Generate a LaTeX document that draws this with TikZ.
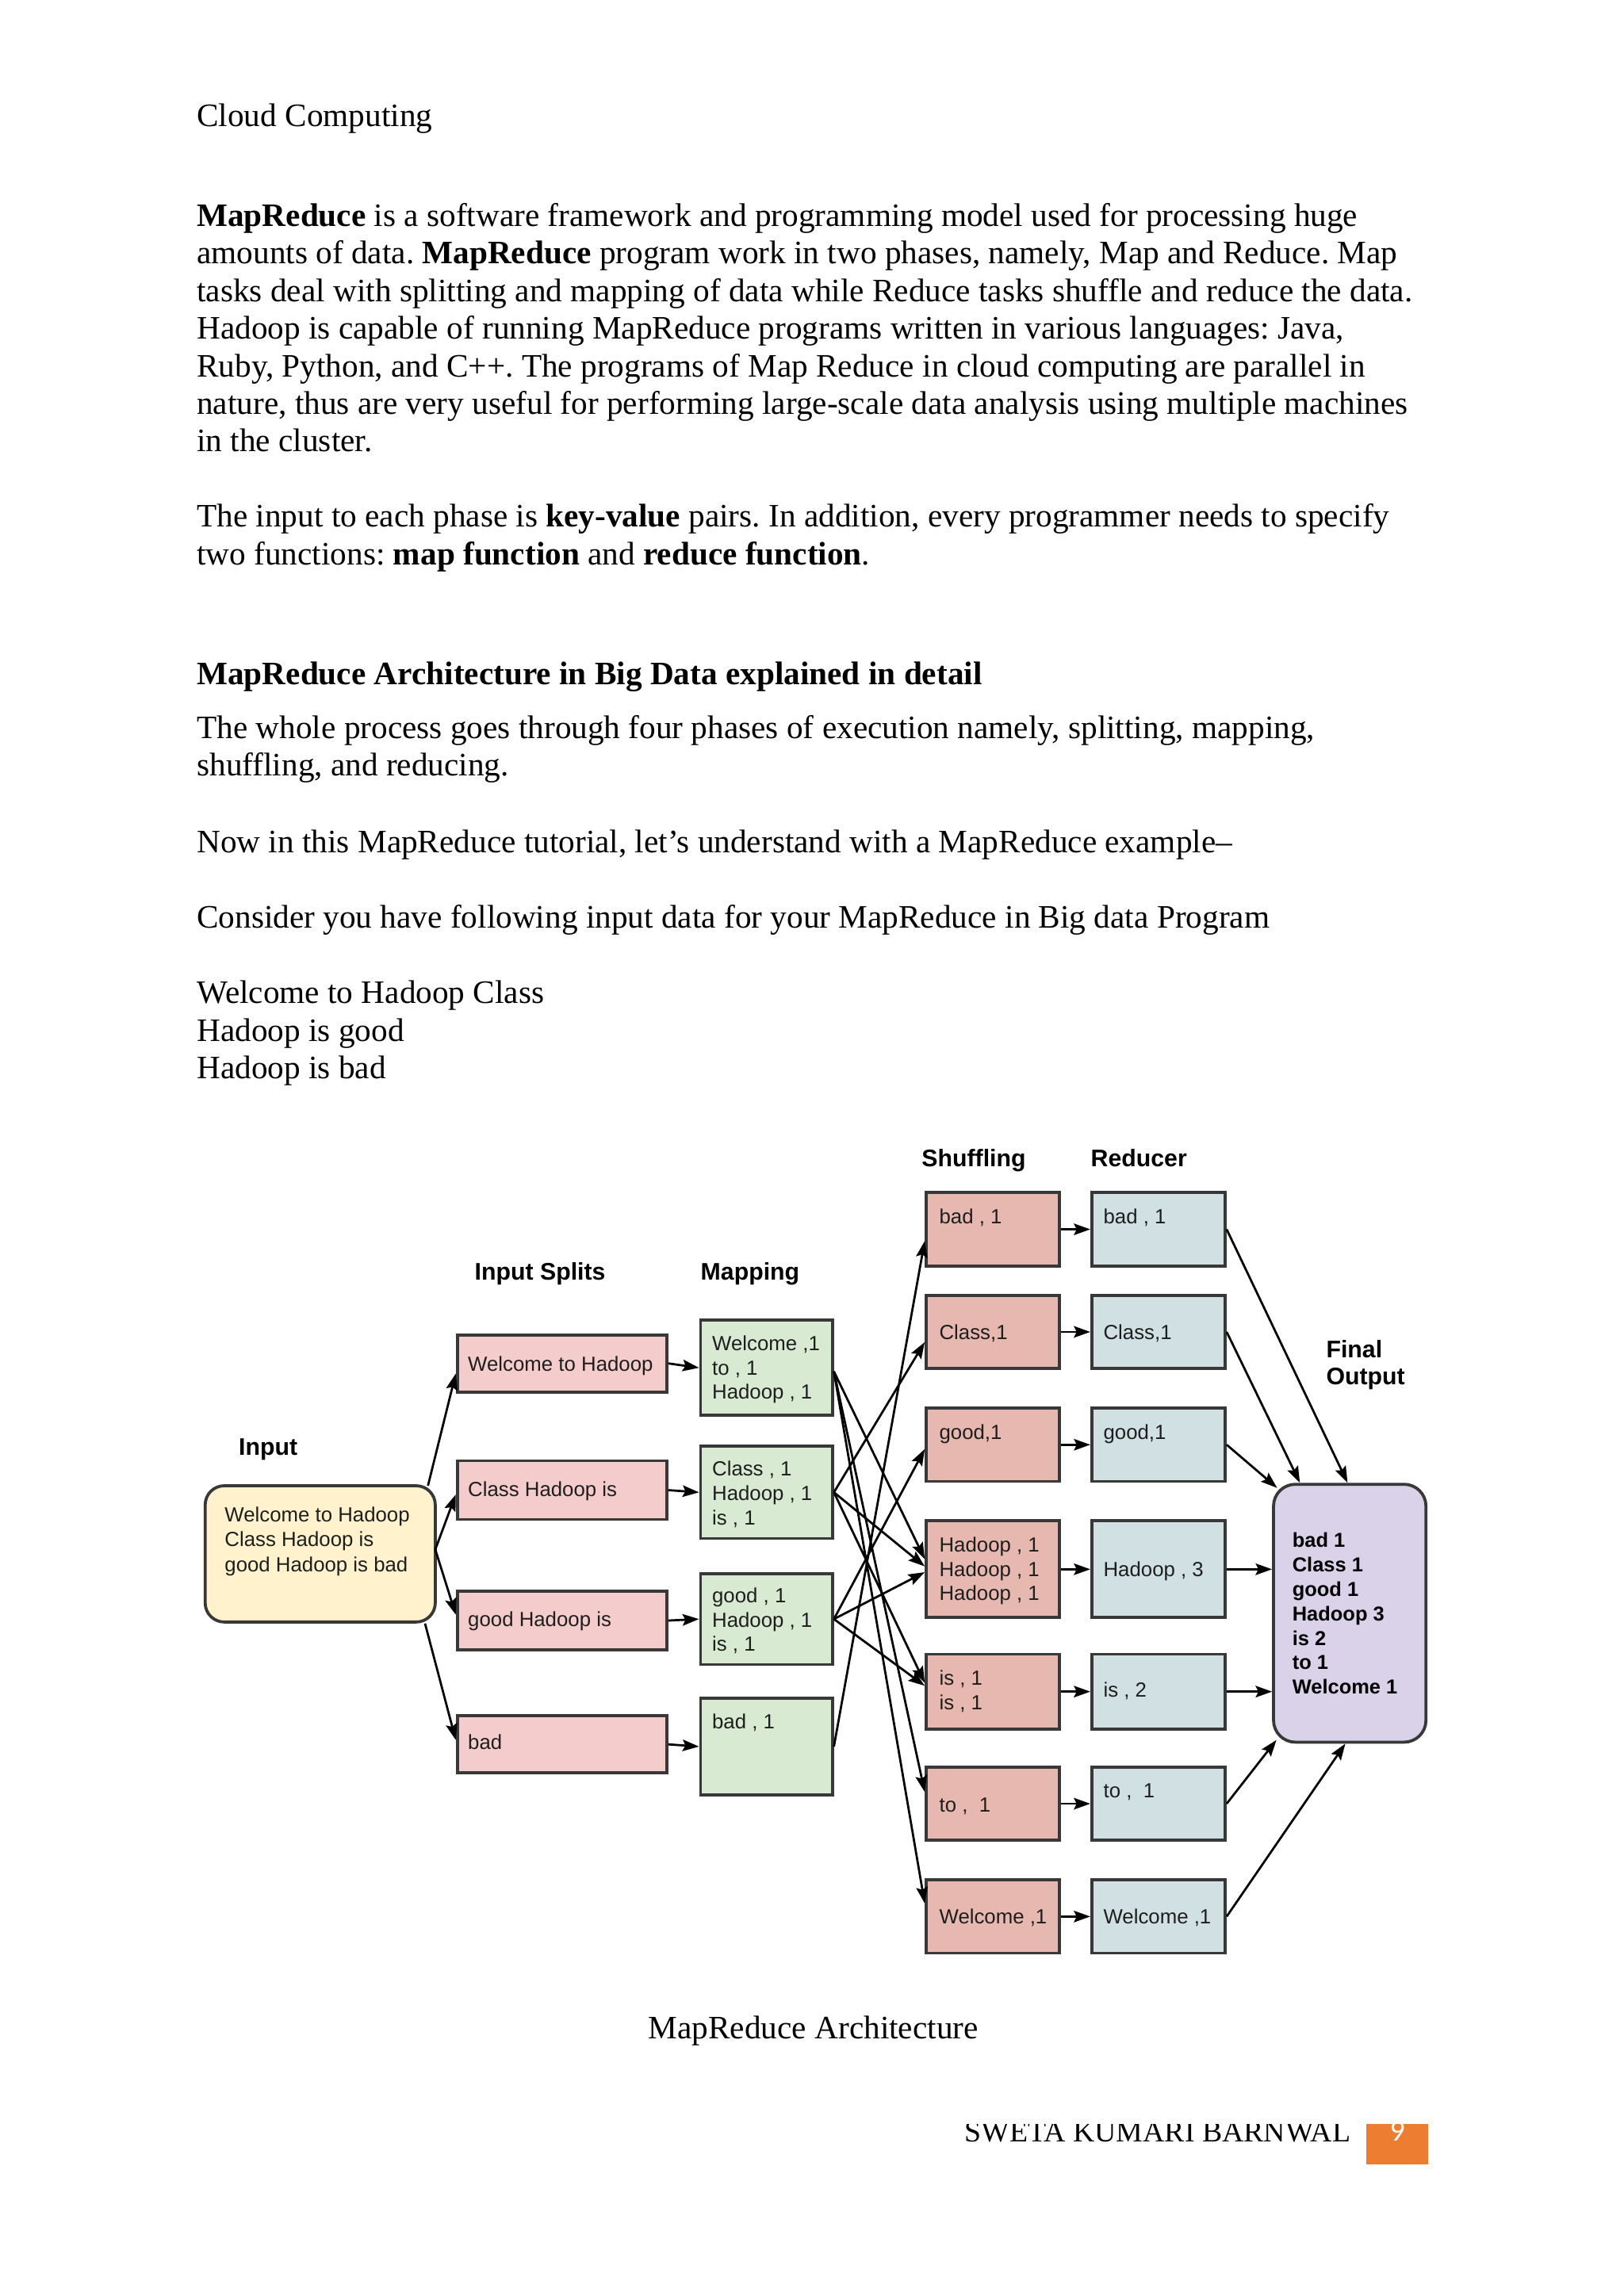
\documentclass[tikz,border=0pt]{standalone}
\usepackage{fontspec}
\setmainfont{Liberation Serif}
\newfontfamily\arialf{Liberation Sans}
\newfontfamily\calib{Carlito}
\usetikzlibrary{fit,calc,arrows.meta}
\definecolor{splitc}{HTML}{F4CCCC}
\definecolor{mapc}{HTML}{D9EAD3}
\definecolor{shufc}{HTML}{E6B8AF}
\definecolor{redc}{HTML}{D0E0E3}
\definecolor{inpc}{HTML}{FFF2CC}
\definecolor{finc}{HTML}{D9D2E9}
\definecolor{bordc}{HTML}{383838}
\definecolor{txtc}{HTML}{1E1E1E}
\definecolor{orangec}{HTML}{ED7D31}
\frenchspacing
\begin{document}
\frenchspacing
\begin{tikzpicture}[x=0.53726pt,y=-0.53726pt,
  body/.style={anchor=base west,inner sep=0pt,font=\fontsize{12}{14}\selectfont},
  box/.style={draw=bordc,line width=1.1pt,inner sep=0pt},
  splitbox/.style={box,fill=splitc},
  mapbox/.style={box,fill=mapc},
  shufbox/.style={box,fill=shufc},
  redbox/.style={box,fill=redc},
  inpbox/.style={box,fill=inpc,rounded corners=7pt},
  finbox/.style={box,fill=finc,rounded corners=8pt},
  dt/.style={anchor=base west,inner sep=0pt,text=txtc,font=\arialf\fontsize{7.5}{9}\selectfont},
  lbl/.style={anchor=base west,inner sep=0pt,font=\arialf\bfseries\fontsize{8.8}{10}\selectfont},
  ft/.style={anchor=base west,inner sep=0pt,font=\arialf\bfseries\fontsize{7.4}{9}\selectfont},
  arr/.style={-{Stealth[length=6pt,width=4.2pt,inset=1pt]},line width=0.8pt,black},
]
\useasboundingbox[fill=white] (0,0) rectangle (1108,1567);

% ---------------- text ----------------
\node[body] (hdr) at (134,86.5) {Cloud Computing};
\node[body] (p1) at (134,154.3) {\textbf{MapReduce} is a software framework and programming model used for processing huge};
\node[body] (p2) at (134,180.0) {amounts of data. \textbf{MapReduce} program work in two phases, namely, Map and Reduce. Map};
\node[body] (p3) at (134,205.7) {tasks deal with splitting and mapping of data while Reduce tasks shuffle and reduce the data.};
\node[body] (p4) at (134,231.4) {Hadoop is capable of running MapReduce programs written in various languages: Java,};
\node[body] (p5) at (134,257.1) {Ruby, Python, and C++. The programs of Map Reduce in cloud computing are parallel in};
\node[body] (p6) at (134,282.8) {nature, thus are very useful for performing large-scale data analysis using multiple machines};
\node[body] (p7) at (134,308.3) {in the cluster.};
\node[body] (q1) at (134,359.8) {The input to each phase is \textbf{key-value} pairs. In addition, every programmer needs to specify};
\node[body] (q2) at (134,385.3) {two functions: \textbf{map function} and \textbf{reduce function}.};
\node[body] (hd2) at (134,467.5) {\textbf{MapReduce Architecture in Big Data explained in detail}};
\node[body] (w1) at (134,504) {The whole process goes through four phases of execution namely, splitting, mapping,};
\node[body] (w2) at (134,529.5) {shuffling, and reducing.};
\node[body] (nw) at (134,582) {Now in this MapReduce tutorial, let’s understand with a MapReduce example–};
\node[body] (cs) at (134,633.5) {Consider you have following input data for your MapReduce in Big data Program};
\node[body] (d1) at (134,685) {Welcome to Hadoop Class};
\node[body] (d2) at (134,710.5) {Hadoop is good};
\node[body] (d3) at (134,736) {Hadoop is bad};
\node[body,anchor=base] (cap) at (555,1391.5) {MapReduce Architecture};

% ---------------- column labels ----------------
\node[lbl] (lin) at (162.6,993) {Input};
\node[lbl] (lsp) at (323.6,873.7) {Input Splits};
\node[lbl] (lmp) at (477.8,873.7) {Mapping};
\node[lbl] (lsh) at (628.6,796) {Shuffling};
\node[lbl] (lre) at (744,796) {Reducer};
\node[lbl] (lf1) at (904.6,926.5) {Final};
\node[lbl] (lf2) at (904.6,945) {Output};

% ---------------- boxes ----------------
\node[inpbox,fit={(140,1014)(297,1107)}] (inp) {};
\node[splitbox,fit={(312,911)(455,950)}] (sp1) {};
\node[splitbox,fit={(312,997)(455,1037)}] (sp2) {};
\node[splitbox,fit={(312,1086)(455,1126)}] (sp3) {};
\node[splitbox,fit={(312,1171)(455,1210)}] (sp4) {};
\node[mapbox,fit={(478,901)(568,966)}] (m1) {};
\node[mapbox,fit={(478,987)(568,1050)}] (m2) {};
\node[mapbox,fit={(478,1074)(568,1136)}] (m3) {};
\node[mapbox,fit={(478,1159)(568,1225)}] (m4) {};
\node[shufbox,fit={(632,814)(723,864)}] (h1) {};
\node[shufbox,fit={(632,884)(723,934)}] (h2) {};
\node[shufbox,fit={(632,961)(723,1011)}] (h3) {};
\node[shufbox,fit={(632,1038)(723,1104)}] (h4) {};
\node[shufbox,fit={(632,1129)(723,1180)}] (h5) {};
\node[shufbox,fit={(632,1206)(723,1256)}] (h6) {};
\node[shufbox,fit={(632,1283)(723,1333)}] (h7) {};
\node[redbox,fit={(745,814)(836,864)}] (r1) {};
\node[redbox,fit={(745,884)(836,934)}] (r2) {};
\node[redbox,fit={(745,961)(836,1011)}] (r3) {};
\node[redbox,fit={(745,1038)(836,1104)}] (r4) {};
\node[redbox,fit={(745,1129)(836,1180)}] (r5) {};
\node[redbox,fit={(745,1206)(836,1256)}] (r6) {};
\node[redbox,fit={(745,1283)(836,1333)}] (r7) {};
\node[finbox,fit={(869,1013)(973,1189)}] (fin) {};

% ---------------- box texts ----------------
\node[dt] (ti1) at (153,1038.5) {Welcome to Hadoop};
\node[dt] (ti2) at (153,1055.5) {Class Hadoop is};
\node[dt] (ti3) at (153,1072.6) {good Hadoop is bad};

\node[dt] (ts1) at (319,936) {Welcome to Hadoop};
\node[dt] (ts2) at (319,1021.5) {Class Hadoop is};
\node[dt] (ts3) at (319,1110) {good Hadoop is};
\node[dt] (ts4) at (319,1193.7) {bad};

\node[dt] (tm11) at (485.6,922) {Welcome ,1};
\node[dt] (tm12) at (485.6,938.5) {to , 1};
\node[dt] (tm13) at (485.6,955) {Hadoop , 1};
\node[dt] (tm21) at (485.6,1007.4) {Class , 1};
\node[dt] (tm22) at (485.6,1024) {Hadoop , 1};
\node[dt] (tm23) at (485.6,1040.6) {is , 1};
\node[dt] (tm31) at (485.6,1093.7) {good , 1};
\node[dt] (tm32) at (485.6,1110.5) {Hadoop , 1};
\node[dt] (tm33) at (485.6,1127) {is , 1};
\node[dt] (tm41) at (485.6,1179.8) {bad , 1};

\node[dt] (th1) at (640.6,835) {bad , 1};
\node[dt] (th2) at (640.6,914) {Class,1};
\node[dt] (th3) at (640.6,982.5) {good,1};
\node[dt] (th41) at (640.6,1059) {Hadoop , 1};
\node[dt] (th42) at (640.6,1075.7) {Hadoop , 1};
\node[dt] (th43) at (640.6,1092) {Hadoop , 1};
\node[dt] (th51) at (640.6,1150) {is , 1};
\node[dt] (th52) at (640.6,1167) {is , 1};
\node[dt] (th6) at (640.6,1236.5) {to ,~~1};
\node[dt] (th7) at (640.6,1313) {Welcome ,1};

\node[dt] (tr1) at (752.6,835) {bad , 1};
\node[dt] (tr2) at (752.6,914) {Class,1};
\node[dt] (tr3) at (752.6,982.5) {good,1};
\node[dt] (tr4) at (752.6,1076) {Hadoop , 3};
\node[dt] (tr5) at (752.6,1158) {is , 2};
\node[dt] (tr6) at (752.6,1227) {to ,~~1};
\node[dt] (tr7) at (752.6,1313) {Welcome ,1};

\node[ft] (tf1) at (881.5,1056) {bad 1};
\node[ft] (tf2) at (881.5,1072.7) {Class 1};
\node[ft] (tf3) at (881.5,1089.4) {good 1};
\node[ft] (tf4) at (881.5,1106.1) {Hadoop 3};
\node[ft] (tf5) at (881.5,1122.8) {is 2};
\node[ft] (tf6) at (881.5,1139.5) {to 1};
\node[ft] (tf7) at (881.5,1156.2) {Welcome 1};

% ---------------- connectors ----------------
\draw[arr] ($(inp.north east)+(-6,1)$) -- ($(sp1.west)+(0,7)$);
\draw[arr] ($(inp.east)+(-1,-3)$) -- ($(sp2.west)+(0,3)$);
\draw[arr] ($(inp.east)+(-1,-3)$) -- ($(sp3.west)+(0,-4)$);
\draw[arr] ($(inp.south east)+(-8,0)$) -- ($(sp4.west)+(0,-3)$);

\draw[arr] (sp1.east) -- (m1.west);
\draw[arr] (sp2.east) -- (m2.west);
\draw[arr] (sp3.east) -- (m3.west);
\draw[arr] (sp4.east) -- (m4.west);

\draw[arr] (m4.east) -- ($(h1.west)+(0,8)$);
\draw[arr] (m2.east) -- ($(h2.west)+(0,7)$);
\draw[arr] (m3.east) -- ($(h3.west)+(0,3)$);
\draw[arr] ($(m1.east)+(0,2.5)$) -- ($(h4.west)+(0,-7)$);
\draw[arr] (m2.east) -- ($(h4.west)+(0,-2)$);
\draw[arr] (m3.east) -- ($(h4.west)+(0,2)$);
\draw[arr] (m2.east) -- ($(h5.west)+(0,-6)$);
\draw[arr] (m3.east) -- ($(h5.west)+(0,-4)$);
\draw[arr] ($(m1.east)+(0,2.5)$) -- ($(h6.west)+(0,-8)$);
\draw[arr] ($(m1.east)+(0,2.5)$) -- ($(h7.west)+(0,-9)$);

\foreach \i in {1,...,7}{\draw[arr] (h\i.east) -- (r\i.west);}

\draw[arr] (r1.east) -- ($(fin.north)+(-1.5,0)$);
\draw[arr] (r2.east) -- ($(fin.north west)+(19,0)$);
\draw[arr] (r3.east) -- ($(fin.north west)+(3.5,3.5)$);
\draw[arr] (r4.east) -- (fin.west |- r4.east);
\draw[arr] (r5.east) -- (fin.west |- r5.east);
\draw[arr] (r6.east) -- ($(fin.south west)+(3,-2.5)$);
\draw[arr] (r7.east) -- ($(fin.south)+(-3,0)$);

% ---------------- footer (clipped at top) ----------------
\begin{scope}
\clip (0,1450) rectangle (1108,1567);
\node[body,anchor=base east,font=\fontsize{11}{13}\selectfont] (auth) at (922,1462) {SWETA KUMARI BARNWAL};
\node[fill=orangec,inner sep=0pt,fit={(932.5,1440)(974.5,1477)}] (pgbox) {};
\node[anchor=base,inner sep=0pt,text=white,font=\calib\fontsize{11}{13}\selectfont] (pgnum) at (953.5,1461) {9};
\end{scope}
\end{tikzpicture}
\end{document}
